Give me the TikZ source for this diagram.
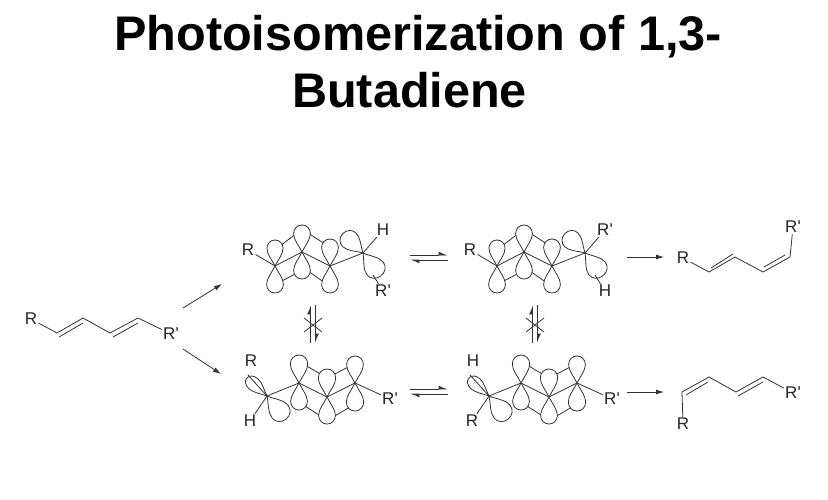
\documentclass[tikz,border=0pt]{standalone}
\usepackage{fontspec}
\setmainfont{Liberation Sans}[Ligatures=TeXOff]
\usetikzlibrary{arrows.meta}
\tikzset{every path/.style={black!80,line width=0.8pt},
  atom/.style={inner sep=1pt,text=black!85,font=\fontsize{17}{18}\selectfont},
  titletext/.style={inner sep=0pt,anchor=base,text=black,font=\fontsize{48.6}{57}\selectfont\bfseries},
  lobe/.style={fill=white},
  rxn/.style={-{Latex[length=8pt,width=5pt]}},
  harpoon/.style={-{Latex[left,length=8pt,width=7pt]}}}
% teardrop: [fatness], base, canvas angle, reach
\newcommand{\lobe}[4][1]{\draw[lobe,shift={(#2)},rotate=#3,x=#4pt,y=#1*#4pt] (0,0)
  .. controls (.25,.12) and (.45,.31) .. (.68,.31) .. controls (.86,.31) and (1,.18) .. (1,0)
  .. controls (1,-.18) and (.86,-.31) .. (.68,-.31) .. controls (.45,-.31) and (.25,-.12) .. cycle;}
% p-orbital: both lobes on one atom
\newcommand{\porb}[3]{\lobe{#1}{-90}{#2}\lobe{#1}{90}{#3}}

\begin{document}
\begin{tikzpicture}[x=1pt,y=-1pt]
  \useasboundingbox (0,0) rectangle (828,499);
  \node[titletext] (title1) at (418,50) {Photoisomerization of 1,3-};
  \node[titletext] (title2) at (409.5,107) {Butadiene};

  % starting diene
  \node[atom] (r0) at (31,319) {R};
  \node[atom] (p0) at (171,334) {R'};
  \coordinate (a1) at (57,333);
  \coordinate (a2) at (83,318);
  \coordinate (a3) at (110,333);
  \coordinate (a4) at (138,318);
  \draw (r0) -- (a1) -- (a2) -- (a3) -- (a4) -- (p0);
  \draw (59,337) -- (83,323);
  \draw (113,337) -- (138,323);

  % top row of orbitals
  \foreach \dx/\ta/\tb in {0/H/R',222/R'/H} {
   \begin{scope}[xshift=\dx pt]
    \coordinate (c1) at (275,266);
    \coordinate (c2) at (302,252);
    \coordinate (c3) at (330,266);
    \coordinate (c4) at (363,253);
    \node[atom] (rl) at (248,250) {R};
    \node[atom] (tl) at (383,230) {\ta};
    \node[atom] (bl) at (383,291) {\tb};
    \draw (280,246) -- (297,233) (308,233) -- (325,244);
    \draw (280,282) -- (297,273) (308,271) -- (325,283);
    \porb{c1}{27}{26}
    \porb{c2}{27}{27}
    \porb{c3}{27}{27}
    \draw (rl) -- (c1) -- (c2) -- (c3) -- (c4) -- (tl);
    \lobe[1.1]{c4}{136}{28}
    \lobe[1.15]{c4}{-52}{29}
    \draw (373,275) -- (bl);
   \end{scope}
  }

  % bottom row of orbitals
  \foreach \dx/\ta/\tb in {0/R/H,222/H/R} {
   \begin{scope}[xshift=\dx pt]
    \coordinate (d0) at (267,396);
    \coordinate (d1) at (299,383);
    \coordinate (d2) at (327,397);
    \coordinate (d3) at (355,383);
    \node[atom] (tl) at (251,361) {\ta};
    \node[atom] (bl) at (250,421) {\tb};
    \node[atom] (pl) at (390,399) {R'};
    \draw (305,365) -- (322,375) (333,375) -- (350,366);
    \draw (305,406) -- (322,417) (333,417) -- (350,407);
    \porb{d1}{27}{28}
    \porb{d2}{27}{28}
    \porb{d3}{28}{27}
    \draw (d0) -- (d1) -- (d2) -- (d3) -- (pl);
    \lobe[.8]{d0}{138}{27}
    \lobe[1.1]{d0}{-50}{30}
    \draw (248,375) -- (d0) -- (bl);
   \end{scope}
  }

  % products
  \node[atom] (r1) at (683,258) {R};
  \node[atom] (p1) at (793,227) {R'};
  \coordinate (e1) at (709,272);
  \coordinate (e2) at (735,257);
  \coordinate (e3) at (763,272);
  \coordinate (e4) at (790,257);
  \draw (r1) -- (e1) -- (e2) -- (e3) -- (e4) -- (p1);
  \draw (711,268) -- (733,254);
  \draw (764,267) -- (785,255);
  \node[atom] (r2) at (683,424) {R};
  \node[atom] (p2) at (793,393) {R'};
  \coordinate (f1) at (682,392);
  \coordinate (f2) at (709,377);
  \coordinate (f3) at (736,392);
  \coordinate (f4) at (763,377);
  \draw (r2) -- (f1) -- (f2) -- (f3) -- (f4) -- (p2);
  \draw (686,395) -- (708,382);
  \draw (738,396) -- (763,382);

  % reaction arrows
  \draw[rxn] (183,308) -- (222,284);
  \draw[rxn] (183,349) -- (221,374);
  \foreach \ya in {257,392} \draw[rxn] (627,\ya) -- (664,\ya);

  % equilibria
  \foreach \ya in {255,389} {
    \draw[harpoon] (410,\ya) -- (448,\ya);
    \draw[harpoon] (448,\ya+5) -- (410,\ya+5);
  }
  \foreach \xa in {313,535} {
    \draw[harpoon] (\xa-2.5,343) -- (\xa-2.5,305);
    \draw[harpoon] (\xa+2.5,305) -- (\xa+2.5,343);
    \draw (\xa-9,318) -- (\xa+9,332) (\xa+9,318) -- (\xa-9,332);
  }
\end{tikzpicture}
\end{document}
